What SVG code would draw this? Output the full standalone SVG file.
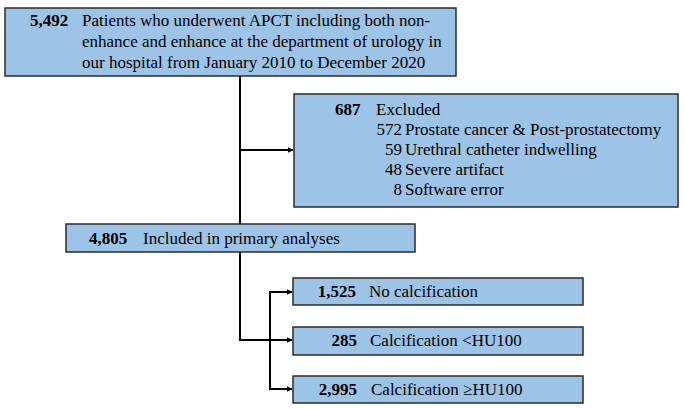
<svg xmlns="http://www.w3.org/2000/svg" width="685" height="409" viewBox="0 0 685 409">
<defs>
<style>
.box{fill:#9DC3E6;stroke:#2b2b2b;stroke-width:1.5}
text{font-family:"Liberation Serif","Times New Roman",serif;font-size:17px;fill:#000}
.b{font-weight:bold}
.ln{fill:none;stroke:#000;stroke-width:2}
</style>
<marker id="ah" markerWidth="6" markerHeight="6" refX="5.5" refY="3" orient="auto" markerUnits="userSpaceOnUse">
<path d="M0,0 L6,3 L0,6 Z" fill="#000"/>
</marker>
</defs>
<g id="connectors">
<path class="ln" d="M240,76 V224"/>
<path class="ln" d="M240,150 H293" marker-end="url(#ah)"/>
<path class="ln" d="M240,252 V340 H292" marker-end="url(#ah)"/>
<path class="ln" d="M270,292 V389"/>
<path class="ln" d="M269,292 H292" marker-end="url(#ah)"/>
<path class="ln" d="M269,389 H292" marker-end="url(#ah)"/>
</g>
<g id="n1">
<rect class="box" x="5" y="8" width="451" height="68"/>
<text class="b" x="30" y="26">5,492</text>
<text x="82" y="26">Patients who underwent APCT including both non-</text>
<text x="82" y="47">enhance and enhance at the department of urology in</text>
<text x="82" y="68">our hospital from January 2010 to December 2020</text>
</g>
<g id="n2">
<rect class="box" x="294" y="94" width="384" height="113"/>
<text class="b" x="335" y="115">687</text>
<text x="376" y="115">Excluded</text>
<text x="402" y="135" text-anchor="end">572</text>
<text x="405" y="135">Prostate cancer &amp; Post-prostatectomy</text>
<text x="402" y="155" text-anchor="end">59</text>
<text x="405" y="155">Urethral catheter indwelling</text>
<text x="402" y="175" text-anchor="end">48</text>
<text x="405" y="175">Severe artifact</text>
<text x="402" y="195" text-anchor="end">8</text>
<text x="405" y="195">Software error</text>
</g>
<g id="n3">
<rect class="box" x="66" y="224" width="349" height="28"/>
<text class="b" x="89" y="244">4,805</text>
<text x="143" y="244">Included in primary analyses</text>
</g>
<g id="n4">
<rect class="box" x="293" y="278" width="290" height="27"/>
<text class="b" x="356" y="297" text-anchor="end">1,525</text>
<text x="369" y="297">No calcification</text>
</g>
<g id="n5">
<rect class="box" x="293" y="327" width="290" height="28"/>
<text class="b" x="357" y="346" text-anchor="end">285</text>
<text x="370" y="346">Calcification &lt;HU100</text>
</g>
<g id="n6">
<rect class="box" x="293" y="376" width="290" height="27"/>
<text class="b" x="357" y="395" text-anchor="end">2,995</text>
<text x="371" y="395">Calcification ≥HU100</text>
</g>
</svg>
